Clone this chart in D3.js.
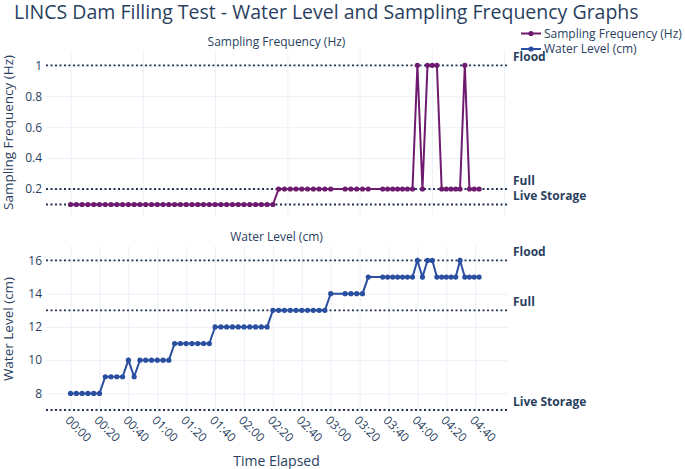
<!DOCTYPE html>
<html lang="en">
<head>
    <meta charset="UTF-8">
    <title>LINCS Dam Filling Test</title>
    <script src="https://d3js.org/d3.v7.min.js"></script>
    <style>
        body { margin: 0; background: #fff; }
        text { font-family: "Open Sans", verdana, arial, sans-serif; fill: #2a3f5f; }
        .grid line { stroke: #ebf0f8; stroke-width: 1; }
        .grid path { display: none; }
        .ticklab { font-size: 12px; }
    </style>
</head>
<body>
    <div id="chart-container"></div>

    <script>
        // elapsed time of each sample, in minutes
        const timeMin = [
            0, 4, 8, 12, 16, 20, 24, 28, 32, 36, 40, 44, 48, 52, 56, 60, 64, 68,
            72, 76, 80, 84, 88, 92, 96, 100, 104, 108, 112, 116, 120, 124, 128, 132, 136,
            140, 144, 148, 152, 156, 160, 164, 168, 172, 176, 180,
            190, 194, 198, 202, 206,
            216, 219.4, 222.9, 226.3, 229.7, 233.1, 236.6,
            240, 243.5, 247, 250.3, 253.5, 256.8, 260, 263.3, 266.5, 269.5,
            272.8, 276, 279.3, 282.7
        ];
        const waterLevel = [
            8, 8, 8, 8, 8, 8, 9, 9, 9, 9, 10, 9, 10, 10, 10, 10, 10, 10,
            11, 11, 11, 11, 11, 11, 11, 12, 12, 12, 12, 12, 12, 12, 12, 12, 12,
            13, 13, 13, 13, 13, 13, 13, 13, 13, 13, 14,
            14, 14, 14, 14, 15,
            15, 15, 15, 15, 15, 15, 15,
            16, 15, 16, 16, 15, 15, 15, 15, 15, 16,
            15, 15, 15, 15
        ];
        const sampleFreq = [
            0.1, 0.1, 0.1, 0.1, 0.1, 0.1, 0.1, 0.1, 0.1, 0.1, 0.1, 0.1, 0.1, 0.1, 0.1, 0.1, 0.1, 0.1,
            0.1, 0.1, 0.1, 0.1, 0.1, 0.1, 0.1, 0.1, 0.1, 0.1, 0.1, 0.1, 0.1, 0.1, 0.1, 0.1, 0.1,
            0.1, 0.2, 0.2, 0.2, 0.2, 0.2, 0.2, 0.2, 0.2, 0.2, 0.2,
            0.2, 0.2, 0.2, 0.2, 0.2,
            0.2, 0.2, 0.2, 0.2, 0.2, 0.2, 0.2,
            1, 0.2, 1, 1, 1, 0.2, 0.2, 0.2, 0.2, 0.2,
            1, 0.2, 0.2, 0.2
        ];

        const thresholdNames = ["Flood", "Full", "Live Storage"];
        const freqThresholds = [1, 0.2, 0.1];
        const levelThresholds = [16, 13, 7];

        const freqTicks = [0.2, 0.4, 0.6, 0.8, 1];
        const levelTicks = [8, 10, 12, 14, 16];
        const topGridTicks = ["00:00", "00:50", "01:40", "02:30", "03:20", "04:10", "05:00"];
        const timeTickLabels = ["00:00", "00:20", "00:40", "01:00", "01:20", "01:40", "02:00",
            "02:20", "02:40", "03:00", "03:20", "03:40", "04:00", "04:20", "04:40"];

        const seriesNames = ["Sampling Frequency (Hz)", "Water Level (cm)"];
        const seriesColors = ["#6e1a6e", "#2a4ea0"];

        const toMin = s => { const p = s.split(":"); return +p[0] * 60 + +p[1]; };

        const containerWidth = 685;
        const containerHeight = 469;
        const plotLeft = 46, plotRight = 507;
        const top1 = 50, bottom1 = 215;
        const top2 = 246, bottom2 = 412;

        const svg = d3.select("#chart-container")
            .append("svg")
            .attr("width", containerWidth)
            .attr("height", containerHeight);

        const x = d3.scaleLinear().domain([-17, 302]).range([plotLeft, plotRight]);
        const yFreq = d3.scaleLinear().domain([0.032, 1.099]).range([bottom1, top1]);
        const yLevel = d3.scaleLinear().domain([6.88, 16.87]).range([bottom2, top2]);

        const rows = timeMin.map((t, i) => ({ t: t, level: waterLevel[i], freq: sampleFreq[i] }));

        // grids
        svg.append("g").attr("class", "grid")
            .attr("transform", `translate(0,${bottom1})`)
            .call(d3.axisBottom(x).tickValues(topGridTicks.map(toMin)).tickSize(-(bottom1 - top1)).tickFormat(""));
        svg.append("g").attr("class", "grid")
            .attr("transform", `translate(0,${bottom2})`)
            .call(d3.axisBottom(x).tickValues(timeTickLabels.map(toMin)).tickSize(-(bottom2 - top2)).tickFormat(""));

        const yAxis1 = svg.append("g").attr("class", "grid")
            .attr("transform", `translate(${plotLeft},0)`)
            .call(d3.axisLeft(yFreq).tickValues(freqTicks).tickSize(-(plotRight - plotLeft)).tickFormat(d3.format("")).tickPadding(4));
        const yAxis2 = svg.append("g").attr("class", "grid")
            .attr("transform", `translate(${plotLeft},0)`)
            .call(d3.axisLeft(yLevel).tickValues(levelTicks).tickSize(-(plotRight - plotLeft)).tickPadding(4));
        [yAxis1, yAxis2].forEach(g => g.selectAll("text")
            .attr("class", "ticklab").style("font-family", null).style("font-size", null).attr("fill", "#2a3f5f"));

        // bottom x tick labels, rotated
        svg.append("g").selectAll("text")
            .data(timeTickLabels)
            .join("text")
            .attr("class", "ticklab")
            .attr("transform", d => `translate(${x(toMin(d)) - 3},${bottom2 + 6}) rotate(45)`)
            .attr("dy", "0.35em")
            .text(d => d);

        // threshold lines
        function thresholds(scale, values) {
            const g = svg.append("g");
            g.selectAll("line")
                .data(values)
                .join("line")
                .attr("x1", plotLeft).attr("x2", plotRight)
                .attr("y1", d => scale(d)).attr("y2", d => scale(d))
                .attr("stroke", "#26344f")
                .attr("stroke-width", 1.8)
                .attr("stroke-dasharray", "2,2.5");
            g.selectAll("text")
                .data(values)
                .join("text")
                .attr("x", plotRight + 6)
                .attr("y", d => scale(d) - 4)
                .attr("font-size", 12)
                .attr("font-weight", "bold")
                .text((d, i) => thresholdNames[i]);
        }
        thresholds(yFreq, freqThresholds);
        thresholds(yLevel, levelThresholds);

        // series
        function drawSeries(yScale, key, color) {
            svg.append("path")
                .datum(rows)
                .attr("fill", "none")
                .attr("stroke", color)
                .attr("stroke-width", 2)
                .attr("d", d3.line().x(d => x(d.t)).y(d => yScale(d[key])));
            svg.append("g").selectAll("circle")
                .data(rows)
                .join("circle")
                .attr("cx", d => x(d.t))
                .attr("cy", d => yScale(d[key]))
                .attr("r", 2.6)
                .attr("fill", color);
        }
        drawSeries(yFreq, "freq", seriesColors[0]);
        drawSeries(yLevel, "level", seriesColors[1]);

        // titles
        svg.append("text")
            .attr("x", 14).attr("y", 19)
            .attr("font-size", 19.5)
            .text("LINCS Dam Filling Test - Water Level and Sampling Frequency Graphs");

        svg.append("text")
            .attr("x", (plotLeft + plotRight) / 2).attr("y", top1 - 4)
            .attr("text-anchor", "middle").attr("font-size", 12)
            .text(seriesNames[0]);
        svg.append("text")
            .attr("x", (plotLeft + plotRight) / 2).attr("y", top2 - 5)
            .attr("text-anchor", "middle").attr("font-size", 12)
            .text(seriesNames[1]);

        svg.append("text")
            .attr("transform", `translate(13,${(top1 + bottom1) / 2}) rotate(-90)`)
            .attr("text-anchor", "middle").attr("font-size", 13.5)
            .text(seriesNames[0]);
        svg.append("text")
            .attr("transform", `translate(13,${(top2 + bottom2) / 2}) rotate(-90)`)
            .attr("text-anchor", "middle").attr("font-size", 13.5)
            .text(seriesNames[1]);

        svg.append("text")
            .attr("x", (plotLeft + plotRight) / 2).attr("y", 466)
            .attr("text-anchor", "middle").attr("font-size", 14)
            .text("Time Elapsed");

        // legend
        const legend = svg.append("g").attr("transform", "translate(521,33.5)");
        const item = legend.selectAll("g")
            .data(seriesNames)
            .join("g")
            .attr("transform", (d, i) => `translate(0,${i * 15.5})`);
        item.append("line")
            .attr("x1", 0).attr("x2", 20)
            .attr("stroke", (d, i) => seriesColors[i]).attr("stroke-width", 2);
        item.append("circle")
            .attr("cx", 10).attr("r", 2.6)
            .attr("fill", (d, i) => seriesColors[i]);
        item.append("text")
            .attr("x", 23).attr("dy", "0.35em")
            .attr("font-size", 12)
            .text(d => d);
    </script>
</body>
</html>
